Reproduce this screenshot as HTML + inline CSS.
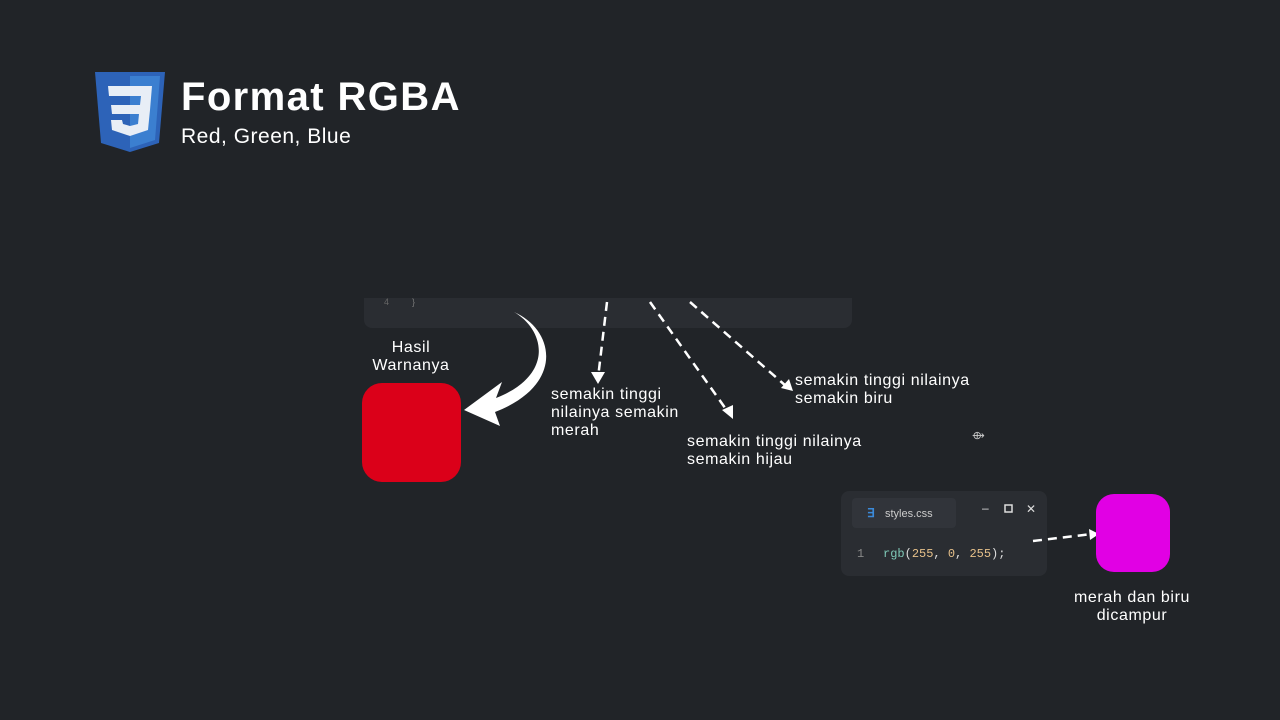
<!DOCTYPE html>
<html><head><meta charset="utf-8"><style>
body{margin:0;width:1280px;height:720px;background:#212428;overflow:hidden;position:relative;font-family:"Liberation Sans",sans-serif;color:#fff}
.t{position:absolute;font-size:16px;line-height:18px;letter-spacing:0.6px}
</style></head><body>
<svg width="1280" height="720" style="position:absolute;left:0;top:0">
<path d="M95 72 H165 L159 143 L130 152 L101 143 Z" fill="#2d63b8"/>
<path d="M130 76 H160 L155 140 L130 148 Z" fill="#3b7fd0"/>
<path d="M108 86 H152 L150 110 L148 130 L130 136 L112 130 L111 120 H122 L123 124 L130 126 L138 124 L139 114 H112 L111 105 H140 L141 96 H109 Z" fill="#e8eef6"/>
<rect x="364" y="290" width="488" height="38" rx="8" fill="#2a2d32"/>
<rect x="0" y="270" width="1280" height="28" fill="#212428"/>
<text x="384" y="305" fill="#666" font-size="9">4</text><text x="412" y="305" fill="#777" font-size="9">}</text>
<rect x="841" y="491" width="206" height="85" rx="8" fill="#2a2d32"/>
<rect x="852" y="498" width="104" height="30" rx="4" fill="#31343a"/>
<text x="867" y="517" fill="#3b8ad9" font-size="12" font-weight="bold">∃</text>
<text x="885" y="517" fill="#ccc" font-size="11">styles.css</text>
<text x="982" y="512" fill="#ddd" font-size="12">–</text><rect x="1005" y="505" width="7" height="7" stroke="#ddd" fill="none" stroke-width="1.5"/><text x="1026" y="513" fill="#ddd" font-size="12">✕</text>
<text x="857" y="557" fill="#888" font-size="12" font-family="Liberation Mono">1</text>
<text x="883" y="557" font-size="12" font-family="Liberation Mono"><tspan fill="#7fcab8">rgb</tspan><tspan fill="#ddd">(</tspan><tspan fill="#e6c08a">255</tspan><tspan fill="#ddd">, </tspan><tspan fill="#e6c08a">0</tspan><tspan fill="#ddd">, </tspan><tspan fill="#e6c08a">255</tspan><tspan fill="#ddd">);</tspan></text>
<g stroke="#fff" stroke-width="2.5" stroke-dasharray="9 6" fill="none">
<path d="M607 302 L598 378"/><path d="M650 302 L728 412"/><path d="M690 302 L786 386"/><path d="M1033 541 L1092 534"/>
</g>
<g fill="#fff"><path d="M591 372 L598 384 L605 372 Z"/><path d="M722 410 L733 419 L733 405 Z"/><path d="M781 388 L793 391 L789 379 Z"/><path d="M1089 529 L1099 534 L1090 540 Z"/></g>
<path d="M514 312 C545 330 555 375 496 398 L502 382 L464 410 L500 426 L495 412 C565 385 555 330 514 312 Z" fill="#fff"/>
<rect x="362" y="383" width="99" height="99" rx="20" fill="#db0019"/>
<rect x="1096" y="494" width="74" height="78" rx="18" fill="#e100e4"/>
<text x="972" y="439" fill="#ccc" font-size="11">⟴</text>
</svg>
<div style="position:absolute;left:181px;top:75px;font-size:40px;font-weight:bold;letter-spacing:1.4px">Format RGBA</div>
<div style="position:absolute;left:181px;top:125px;font-size:21px;letter-spacing:0.5px;width:171px;overflow:hidden;white-space:nowrap">Red, Green, Blue</div>
<div class="t" style="left:361px;top:339px;width:100px;text-align:center">Hasil Warnanya</div>
<div class="t" style="left:551px;top:386px">semakin tinggi<br>nilainya semakin<br>merah</div>
<div class="t" style="left:687px;top:433px">semakin tinggi nilainya<br>semakin hijau</div>
<div class="t" style="left:795px;top:372px">semakin tinggi nilainya<br>semakin biru</div>
<div class="t" style="left:1052px;top:589px;width:160px;text-align:center">merah dan biru<br>dicampur</div>
</body></html>
